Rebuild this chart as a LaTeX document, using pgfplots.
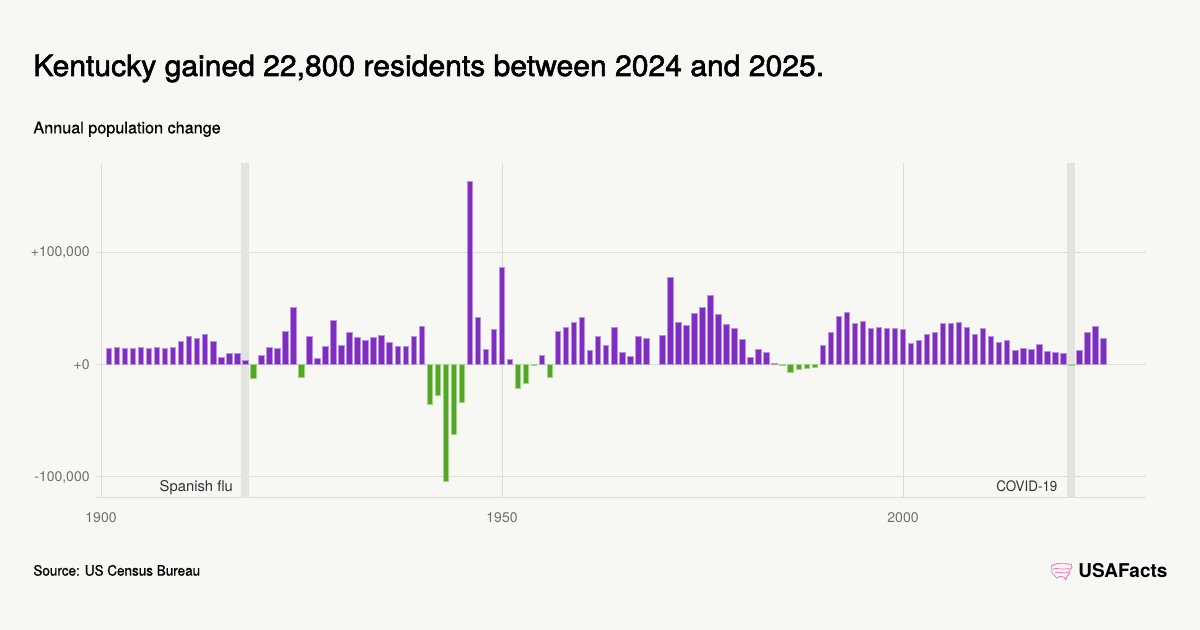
\documentclass[border=0pt]{standalone}
\usepackage{fontspec}
\setmainfont{TeX Gyre Heros}
\newfontfamily\titlefont[FakeBold=2, FakeStretch=1.03]{TeX Gyre Heros}
\newfontfamily\srcfont[FakeBold=1, FakeStretch=0.95]{TeX Gyre Heros}
\newfontfamily\subfont[FakeBold=0.6]{TeX Gyre Heros}
\newfontfamily\labfont[FakeStretch=0.93]{TeX Gyre Heros}
\usepackage{pgfplots}
\pgfplotsset{compat=1.18}
\usepackage{pgfplotstable}
\definecolor{bgcol}{HTML}{F7F7F3}
\definecolor{gridcol}{HTML}{DCDCD8}
\definecolor{bandcol}{HTML}{E3E3DF}
\definecolor{purp}{HTML}{7F2CC0}
\definecolor{purpl}{HTML}{B993E2}
\definecolor{grn}{HTML}{52A826}
\definecolor{grnl}{HTML}{A2D286}
\definecolor{tickcol}{HTML}{6E6E6E}
\definecolor{labcol}{HTML}{333333}
\definecolor{logopink}{HTML}{F06CB4}

\pgfplotstableread{
year val
1901 14000
1902 14900
1903 14000
1904 14000
1905 14900
1906 14000
1907 14900
1908 14000
1909 14900
1910 20800
1911 25000
1912 22900
1913 27100
1914 20800
1915 6000
1916 10100
1917 10100
1918 3900
1920 8000
1921 14900
1922 14000
1923 29600
1924 50800
1926 24700
1927 5700
1928 15800
1929 39000
1930 16700
1931 28600
1932 23800
1933 21700
1934 23800
1935 25900
1936 19600
1937 15800
1938 15800
1939 24700
1940 33800
1946 163400
1947 41700
1948 13700
1949 31500
1950 86400
1951 4800
1955 7700
1957 29600
1958 33000
1959 37800
1960 42000
1961 12800
1962 25000
1963 17000
1964 33000
1965 10700
1966 6800
1967 25000
1968 22900
1970 25600
1971 77200
1972 37600
1973 35100
1974 45200
1975 51200
1976 61600
1977 44300
1978 36000
1979 31800
1980 22300
1981 6000
1982 13100
1983 11000
1984 900
1990 16700
1991 28400
1992 42900
1993 46400
1994 36600
1995 38400
1996 32100
1997 33000
1998 32100
1999 32100
2000 31000
2001 19000
2002 21400
2003 27100
2004 28900
2005 36600
2006 36600
2007 37500
2008 33000
2009 27100
2010 32000
2011 25100
2012 19600
2013 21400
2014 12500
2015 14600
2016 13700
2017 17900
2018 11300
2019 10400
2020 9500
2022 12500
2023 28600
2024 33900
2025 22800
}\posdata

\pgfplotstableread{
year val
1919 -12200
1925 -11300
1941 -35100
1942 -27100
1943 -103900
1944 -61900
1945 -33900
1952 -21100
1953 -17000
1954 -1200
1956 -11900
1985 -700
1986 -7100
1987 -4800
1988 -3600
1989 -3000
2021 -600
}\negdata

\begin{document}
\begin{tikzpicture}
\fill[bgcol] (0,0) rectangle (600pt,315pt);
\node[anchor=base west, inner sep=0pt, font=\titlefont\fontsize{14.6}{16}\selectfont] at (16.5pt,277pt) {Kentucky gained 22,800 residents between 2024 and 2025.};
\node[anchor=base west, inner sep=0pt, font=\subfont\fontsize{8.1}{10}\selectfont] at (16.5pt,248.3pt) {Annual population change};
\node[anchor=base west, inner sep=0pt, font=\srcfont\fontsize{7.1}{9}\selectfont] at (16.5pt,27.2pt) {Source: US Census Bureau};
\node[anchor=base west, inner sep=0pt, font=\bfseries\fontsize{9.5}{11}\selectfont] at (539pt,26.2pt) {USAFacts};
\begin{scope}[x=1pt,y=1pt]
\draw[logopink, line width=0.4pt, line join=round] (525.8,32.2) -- (528.5,33.2) -- (533,33.1) -- (535.6,32.8) -- (536,31.4) -- (535,29.8) -- (534.6,28) -- (533.6,27) -- (532.9,25.2) -- (532,26.4) -- (530,26.8) -- (528.5,25.9) -- (527.4,27) -- (526,28.4) -- cycle;
\draw[logopink, line width=0.35pt] (526.5,30.5) .. controls (528.5,31.5) and (530.5,29.5) .. (535,31);
\draw[logopink, line width=0.35pt] (527.3,28.6) .. controls (529.5,29.6) and (531.5,27.6) .. (534.5,29);
\end{scope}
\begin{axis}[
  at={(50.5pt,66pt)}, anchor=south west,
  scale only axis, width=522.5pt, height=167.5pt,
  xmin=1900, xmax=2030.3, ymin=-118750, ymax=179500,
  scaled y ticks=false, scaled x ticks=false,
  axis x line*=bottom, axis y line*=left,
  axis line style={-, draw=gridcol, line width=0.5pt},
  xtick={1900,1950,2000}, xticklabels={1900,1950,2000},
  ytick={-100000,0,100000}, yticklabels={{-100,000},{+0},{+100,000}},
  grid=major, grid style={draw=gridcol, line width=0.5pt},
  tick align=outside, major tick length=2.5pt,
  xtick style={draw=none}, ytick style={draw=gridcol, line width=0.5pt},
  ticklabel style={font=\fontsize{7}{8}\selectfont, text=tickcol, inner sep=0pt},
  xticklabel style={anchor=base, yshift=-10pt},
  yticklabel style={anchor=base east, xshift=-3pt, yshift=-2.35pt},
  clip=false,
]
\fill[bandcol] (axis cs:1917.5,-118750) rectangle (axis cs:1918.5,179500);
\fill[bandcol] (axis cs:2020.5,-118750) rectangle (axis cs:2021.5,179500);
\draw[gridcol, line width=0.5pt] ([xshift=-2.5pt]rel axis cs:0,0) -- (rel axis cs:0,0);
\addplot[ybar, bar width=0.68, bar shift=0pt, fill=purp, draw=purpl, line width=0.5pt] table[x=year,y=val]{\posdata};
\addplot[ybar, bar width=0.68, bar shift=0pt, fill=grn, draw=grnl, line width=0.5pt] table[x=year,y=val]{\negdata};
\node[anchor=base east, inner sep=0pt, font=\fontsize{7.4}{9}\selectfont, text=labcol] at (axis cs:1916.5,-113100) {Spanish flu};
\node[anchor=base east, inner sep=0pt, font=\labfont\fontsize{7.2}{9}\selectfont, text=labcol] at (axis cs:2019.3,-113100) {COVID-19};
\end{axis}
\end{tikzpicture}
\end{document}
